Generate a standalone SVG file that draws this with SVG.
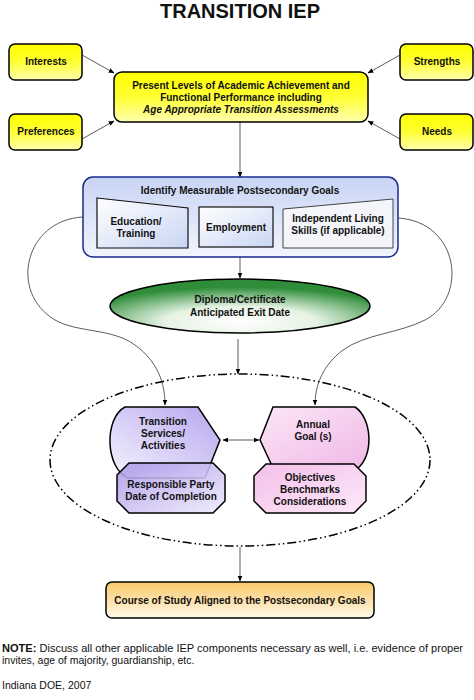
<svg xmlns="http://www.w3.org/2000/svg" width="474" height="700" viewBox="0 0 474 700">
<defs>
<linearGradient id="gYellow" x1="0" y1="0" x2="0" y2="1"><stop offset="0" stop-color="#ffff00"/><stop offset="0.5" stop-color="#ffff33"/><stop offset="1" stop-color="#ffffb0"/></linearGradient>
<linearGradient id="gBlue" x1="0" y1="0" x2="0" y2="1"><stop offset="0" stop-color="#c8d4f4"/><stop offset="1" stop-color="#f2f5fd"/></linearGradient>
<linearGradient id="gSub" x1="0" y1="0" x2="1" y2="1"><stop offset="0" stop-color="#ffffff"/><stop offset="1" stop-color="#c9d5f3"/></linearGradient>
<radialGradient id="gGreenR" cx="0.5" cy="0.8" r="0.65"><stop offset="0" stop-color="#ffffff"/><stop offset="0.45" stop-color="#e6f3e4"/><stop offset="1" stop-color="#2f8d3a"/></radialGradient>
<linearGradient id="gPurple" x1="1" y1="0" x2="0" y2="1"><stop offset="0" stop-color="#b6a6ee"/><stop offset="1" stop-color="#f6f3ff"/></linearGradient>
<linearGradient id="gPurple2" x1="0" y1="0" x2="1" y2="1"><stop offset="0" stop-color="#a896e6"/><stop offset="1" stop-color="#efeafd"/></linearGradient>
<linearGradient id="gPink" x1="0" y1="0" x2="1" y2="1"><stop offset="0" stop-color="#fbe6f7"/><stop offset="1" stop-color="#f1b8e6"/></linearGradient>
<linearGradient id="gPink2" x1="0" y1="0" x2="1" y2="1"><stop offset="0" stop-color="#f3bfe9"/><stop offset="1" stop-color="#fde9f9"/></linearGradient>
<linearGradient id="gOrange" x1="0" y1="0" x2="0" y2="1"><stop offset="0" stop-color="#f9c968"/><stop offset="1" stop-color="#fff8ea"/></linearGradient>
<marker id="arr" viewBox="0 0 10 10" refX="9" refY="5" markerWidth="6" markerHeight="6" orient="auto-start-reverse" markerUnits="userSpaceOnUse"><path d="M0,1 L10,5 L0,9 Z" fill="#000"/></marker>
</defs>
<style>
text{font-family:"Liberation Sans",Arial,sans-serif;font-weight:bold;font-size:10px;fill:#111;text-anchor:middle}
.box{stroke:#000;stroke-width:1.5}
.cn{fill:none;stroke:#333;stroke-width:0.8;marker-end:url(#arr)}
.note{text-anchor:start;font-weight:normal;font-size:10.5px}
</style>
<text x="240" y="18" style="font-size:20px">TRANSITION IEP</text>

<g id="connectors">
<line class="cn" x1="82" y1="55" x2="114" y2="73"/>
<line class="cn" x1="82" y1="139" x2="114" y2="121"/>
<line class="cn" x1="400" y1="55" x2="368" y2="73"/>
<line class="cn" x1="400" y1="139" x2="368" y2="121"/>
<line class="cn" x1="240" y1="122" x2="240" y2="177"/>
<line class="cn" x1="240" y1="257" x2="240" y2="278"/>
<line class="cn" x1="238" y1="339" x2="238" y2="374"/>
<path class="cn" d="M83 217 C25 220 8 292 55 320 C78 333 112 328 135 345 C158 362 165 383 165 405"/>
<path class="cn" d="M398 218 C460 222 468 298 425 320 C400 333 365 334 343 350 C323 365 315 385 315 405"/>
<line class="cn" x1="223" y1="440" x2="259" y2="440" style="marker-start:url(#arr)"/>
<line class="cn" x1="240" y1="547" x2="240" y2="581"/>
</g>

<g id="interests"><rect class="box" x="9" y="44" width="73" height="36" rx="6" fill="url(#gYellow)"/><text x="46" y="65">Interests</text></g>
<g id="preferences"><rect class="box" x="9" y="114" width="73" height="36" rx="6" fill="url(#gYellow)"/><text x="46" y="135">Preferences</text></g>
<g id="strengths"><rect class="box" x="400" y="44" width="73" height="36" rx="6" fill="url(#gYellow)"/><text x="437" y="65">Strengths</text></g>
<g id="needs"><rect class="box" x="400" y="114" width="73" height="36" rx="6" fill="url(#gYellow)"/><text x="437" y="135">Needs</text></g>

<g id="plaafp"><rect class="box" x="114" y="72" width="254" height="50" rx="8" fill="url(#gYellow)"/>
<text x="241" y="89">Present Levels of Academic Achievement and</text>
<text x="241" y="101">Functional Performance including</text>
<text x="241" y="113" style="font-style:italic">Age Appropriate Transition Assessments</text></g>

<g id="goals"><rect x="83" y="177" width="315" height="80" rx="10" fill="url(#gBlue)" stroke="#1a2a8c" stroke-width="1.5"/>
<text x="240" y="194">Identify Measurable Postsecondary Goals</text></g>
<g id="education"><path d="M97 198 L188 208 L188 248 L97 248 Z" fill="url(#gSub)" stroke="#111" stroke-width="1.2"/><text x="136" y="225">Education/</text><text x="136" y="237">Training</text></g>
<g id="employment"><rect x="199" y="207" width="74" height="40" fill="url(#gSub)" stroke="#111" stroke-width="1.2"/><text x="236" y="231">Employment</text></g>
<g id="living"><path d="M283 209 L393 199 L393 248 L283 248 Z" fill="#f3f5fa" stroke="#444" stroke-width="1"/><text x="338" y="222">Independent  Living</text><text x="338" y="234">Skills  (if applicable)</text></g>

<g id="diploma"><ellipse cx="240" cy="306" rx="130" ry="27" fill="url(#gGreenR)" stroke="#000" stroke-width="1.5"/>
<text x="240" y="303">Diploma/Certificate</text><text x="240" y="316">Anticipated Exit Date</text></g>

<g id="cycle"><ellipse cx="240" cy="460" rx="190" ry="86" fill="none" stroke="#000" stroke-width="1.5" stroke-dasharray="9 3 1.5 3 1.5 3"/></g>

<g id="transition"><path d="M125 407 L198 407 L220 440 L205 478 L128 478 C105 468 104 418 125 407 Z" fill="url(#gPurple)" stroke="#000" stroke-width="1.5"/>
<text x="163" y="425">Transition</text><text x="163" y="437">Services/</text><text x="163" y="449">Activities</text></g>
<g id="responsible"><path d="M129 463 L213 463 L225 475 L225 501 L213 513 L129 513 L117 501 L117 475 Z" fill="url(#gPurple2)" fill-opacity="0.88" stroke="#000" stroke-width="1.5"/>
<text x="171" y="488">Responsible Party</text><text x="171" y="500">Date of Completion</text></g>

<g id="annual"><path d="M273 407 L355 407 C372 418 374 455 358 468 L273 468 L260 440 Z" fill="url(#gPink)" stroke="#000" stroke-width="1.5"/>
<text x="313" y="428">Annual</text><text x="313" y="440">Goal (s)</text></g>
<g id="objectives"><path d="M266 464 L354 464 L366 476 L366 501 L354 513 L266 513 L254 501 L254 476 Z" fill="url(#gPink2)" stroke="#000" stroke-width="1.5"/>
<text x="310" y="481">Objectives</text><text x="310" y="493">Benchmarks</text><text x="310" y="505">Considerations</text></g>

<g id="course"><rect class="box" x="106" y="582" width="268" height="36" rx="6" fill="url(#gOrange)"/><text x="240" y="604">Course of Study Aligned to the Postsecondary Goals</text></g>

<text class="note" x="2" y="652" textLength="461" lengthAdjust="spacingAndGlyphs"><tspan font-weight="bold">NOTE:</tspan> Discuss all other applicable IEP components necessary as well, i.e. evidence of proper</text>
<text class="note" x="2" y="664">invites, age of majority, guardianship, etc.</text>
<text class="note" x="2" y="689">Indiana DOE, 2007</text>
</svg>
